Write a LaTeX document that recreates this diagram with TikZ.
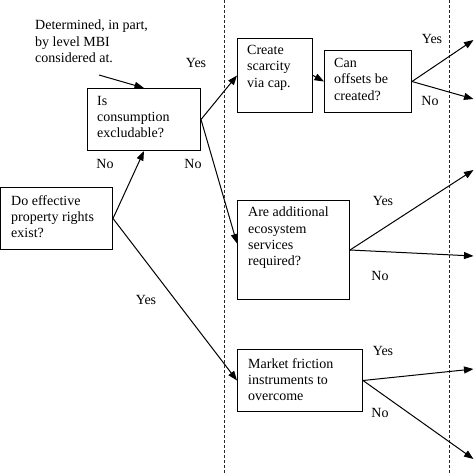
\documentclass[tikz,border=0pt]{standalone}
\usepackage{fontspec}
\setmainfont{Liberation Serif}
\usetikzlibrary{arrows.meta,calc}
\tikzset{
  box/.style={draw, line width=1pt, anchor=north west, inner sep=0pt},
  txt/.style={font=\fontsize{14}{16.3}\selectfont, align=left, inner sep=0pt, anchor=north west},
  lbl/.style={font=\fontsize{14}{16.3}\selectfont, inner sep=0pt},
  arr/.style={line width=1pt, -{Triangle[length=9.5pt,width=7pt]}},
  divider/.style={line width=1pt, dash pattern=on 3pt off 2pt, black!85}
}
\begin{document}
\begin{tikzpicture}[x=1pt,y=-1pt]
\useasboundingbox (0,0) rectangle (474,474);
% dividers
\coordinate (d1t) at (224,0); \coordinate (d1b) at (224,474);
\coordinate (d2t) at (449,0); \coordinate (d2b) at (449,474);
\draw[divider] (d1t) -- (d1b);
\draw[divider] (d2t) -- (d2b);
% boxes
\node[box, minimum width=112pt, minimum height=62pt] (de) at (0,187) {};
\node[box, minimum width=113pt, minimum height=62pt] (isx) at (87,88) {};
\node[box, minimum width=75pt, minimum height=74pt] (cs) at (237,38) {};
\node[box, minimum width=87pt, minimum height=62pt] (co) at (324,50) {};
\node[box, minimum width=112pt, minimum height=99pt] (aa) at (237,200) {};
\node[box, minimum width=125pt, minimum height=62pt] (mf) at (237,349) {};
% texts
\node[txt] (tann) at (35,20) {Determined, in part,\\by level MBI\\considered at.};
\node[txt] (tde) at (11,195) {Do effective\\property rights\\exist?};
\node[txt] (tisx) at (97,96) {Is\\consumption\\excludable?};
\node[txt] (tcs) at (247,45) {Create\\scarcity\\via cap.};
\node[txt] (tco) at (334,58) {Can\\offsets be\\created?};
\node[txt] (taa) at (248,207) {Are additional\\ecosystem\\services\\required?};
\node[txt] (tmf) at (248,358) {Market friction\\instruments to\\overcome};
% free ends
\coordinate (annS) at (99,75);
\coordinate (e1) at (473.5,40);
\coordinate (e2) at (473.5,99);
\coordinate (e3) at (473.5,170);
\coordinate (e4) at (473.5,256);
\coordinate (e5) at (473.5,369);
\coordinate (e6) at (473.5,459);
% connectors
\draw[arr] (annS) -- (isx.north);
\draw[arr] (de.east) -- (isx.south);
\draw[arr] (de.east) -- (mf.west);
\draw[arr] (isx.east) -- (cs.west);
\draw[arr] (isx.east) -- ($(aa.west)+(0,-6.5)$);
\draw[arr] (cs.east) -- (co.west);
\draw[arr] (co.east) -- (e1);
\draw[arr] (co.east) -- (e2);
\draw[arr] (aa.east) -- (e3);
\draw[arr] (aa.east) -- (e4);
\draw[arr] (mf.east) -- (e5);
\draw[arr] (mf.east) -- (e6);
% labels
\node[lbl] (l1) at (196,63) {Yes};
\node[lbl] (l2) at (105,164) {No};
\node[lbl] (l3) at (193,164) {No};
\node[lbl] (l4) at (432,39) {Yes};
\node[lbl] (l5) at (430,101) {No};
\node[lbl] (l6) at (383,201) {Yes};
\node[lbl] (l7) at (380,276) {No};
\node[lbl] (l8) at (146,300) {Yes};
\node[lbl] (l9) at (383,351) {Yes};
\node[lbl] (l10) at (380,413) {No};
\end{tikzpicture}
\end{document}
